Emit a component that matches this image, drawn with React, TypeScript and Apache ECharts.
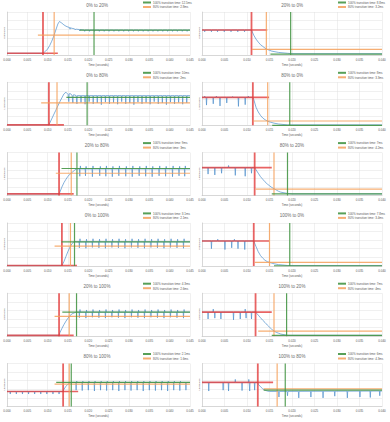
import React, { useEffect, useRef } from "react";
import * as echarts from "echarts";

const titles = [
  "0% to 20%", "20% to 0%", "0% to 80%", "80% to 0%", "20% to 80%", "80% to 20%",
  "0% to 100%", "100% to 0%", "20% to 100%", "100% to 20%", "80% to 100%", "100% to 80%",
];
const legend100 = [
  "100% transition time: 12.5ms", "100% transition time: 8.8ms", "100% transition time: 10ms",
  "100% transition time: 8ms", "100% transition time: 9ms", "100% transition time: 7ms",
  "100% transition time: 3.1ms", "100% transition time: 7.8ms", "100% transition time: 4.3ms",
  "100% transition time: 7ms", "100% transition time: 2.1ms", "100% transition time: 6ms",
];
const legend80 = [
  "80% transition time: 2.8ms", "80% transition time: 3.2ms", "80% transition time: 2ms",
  "80% transition time: 3.3ms", "80% transition time: 3ms", "80% transition time: 4.2ms",
  "80% transition time: 2.1ms", "80% transition time: 3.4ms", "80% transition time: 2.6ms",
  "80% transition time: 4ms", "80% transition time: 1.6ms", "80% transition time: 4.3ms",
];
const xMax = [45, 40, 45, 40, 45, 40, 45, 40, 45, 40, 45, 40];

const redX = [8.85, 11.0, 10.3, 11.3, 12.8, 11.7, 13.5, 11.5, 12.8, 11.9, 13.8, 12.4];
const redEnd = [12.5, 14.5, 14.0, 14.9, 16.4, 15.5, 17.2, 14.9, 16.4, 15.5, 17.5, 15.8];
const startLevel = [0.04, 0.58, 0.01, 0.65, 0.04, 0.65, 0.01, 0.58, 0.02, 0.56, 0.35, 0.56];
const x80 = [11.6, 14.3, 12.3, 14.6, 15.8, 16.0, 15.6, 15.0, 15.3, 16.0, 15.3, 16.7];
const level80 = [0.46, 0.13, 0.52, 0.1, 0.52, 0.15, 0.46, 0.08, 0.46, 0.12, 0.52, 0.41];
const start80 = [7.6, 11.1, 8.4, 11.3, 12.0, 11.9, 11.7, 11.7, 11.7, 12.5, 11.7, 13.7];
const x100 = [21.4, 19.7, 19.7, 19.5, 17.2, 19.0, 16.6, 19.5, 17.1, 18.8, 15.8, 18.5];
const level100 = [0.58, 0.02, 0.65, 0.0, 0.63, 0.04, 0.56, 0.0, 0.56, 0.02, 0.56, 0.38];
const start100 = [17.9, 15.2, 14.6, 15.6, 13.4, 15.5, 13.4, 16.0, 13.6, 15.5, 12.1, 13.7];

// [time ms, luminance] — main shape of each transition
const curve0to20 = [[0, 0.04], [8.85, 0.04], [9.5, 0.09], [10, 0.14], [10.5, 0.22], [11, 0.32], [11.5, 0.44], [12, 0.58], [12.5, 0.72], [12.9, 0.78], [13.5, 0.74], [14, 0.7], [14.5, 0.67], [15, 0.65], [16, 0.62], [17, 0.6], [18, 0.59], [19, 0.58], [45, 0.58]];
const curve20to0 = [[0, 0.58], [11, 0.58], [11.5, 0.46], [12, 0.37], [12.5, 0.3], [13, 0.24], [13.5, 0.2], [14, 0.16], [14.5, 0.13], [15, 0.11], [15.5, 0.09], [16, 0.08], [17, 0.06], [18, 0.05], [19, 0.04], [20, 0.03], [40, 0.03]];
const curve0to80 = [[0, 0.01], [10.3, 0.01], [11, 0.15], [12, 0.35], [13, 0.55], [13.5, 0.64], [14, 0.73], [14.5, 0.77], [15, 0.72], [15.5, 0.74], [16, 0.7], [16.5, 0.71], [17, 0.69], [45, 0.69]];
const curve80to0 = [[0, 0.65], [11.3, 0.65], [11.5, 0.6], [12, 0.42], [12.5, 0.31], [13, 0.23], [13.5, 0.17], [14, 0.13], [14.5, 0.1], [15, 0.08], [16, 0.05], [17, 0.03], [18, 0.02], [19, 0.01], [40, 0.01]];
const curve20to80 = [[0, 0.04], [12.8, 0.04], [13, 0.08], [13.5, 0.2], [14, 0.3], [14.5, 0.38], [15, 0.45], [15.5, 0.5], [16, 0.54], [16.5, 0.58], [17, 0.62], [45, 0.62]];
const curve80to20 = [[0, 0.65], [11.7, 0.65], [12, 0.6], [12.5, 0.52], [13, 0.44], [13.5, 0.38], [14, 0.32], [14.5, 0.27], [15, 0.23], [15.5, 0.19], [16, 0.16], [16.5, 0.13], [17, 0.1], [17.5, 0.08], [18, 0.07], [19, 0.05], [20, 0.04], [40, 0.04]];
const curve0to100 = [[0, 0.01], [13.5, 0.01], [14, 0.1], [14.5, 0.22], [15, 0.34], [15.5, 0.44], [16, 0.52], [16.6, 0.57], [17, 0.56], [45, 0.56]];
const curve100to0 = [[0, 0.58], [11.5, 0.58], [12, 0.45], [12.5, 0.33], [13, 0.24], [13.5, 0.18], [14, 0.13], [14.5, 0.1], [15, 0.08], [16, 0.05], [17, 0.03], [18, 0.02], [19, 0.01], [40, 0.01]];
const curve20to100 = [[0, 0.02], [12.8, 0.02], [13, 0.08], [13.5, 0.18], [14, 0.27], [14.5, 0.35], [15, 0.42], [15.5, 0.48], [16, 0.52], [16.5, 0.54], [17, 0.56], [45, 0.56]];
const curve100to20 = [[0, 0.56], [11.9, 0.56], [12, 0.55], [12.5, 0.49], [13, 0.43], [13.5, 0.37], [14, 0.32], [14.5, 0.26], [15, 0.21], [15.5, 0.16], [16, 0.12], [16.5, 0.09], [17, 0.07], [17.5, 0.05], [18, 0.04], [18.5, 0.03], [19, 0.02], [40, 0.02]];
const curve80to100 = [[0, 0.35], [13.8, 0.35], [14, 0.4], [14.5, 0.47], [15, 0.52], [15.5, 0.55], [16, 0.56], [45, 0.56]];
const curve100to80 = [[0, 0.56], [12.4, 0.56], [12.5, 0.52], [13, 0.46], [13.5, 0.41], [14, 0.38], [14.5, 0.36], [15, 0.35], [40, 0.36]];

// [time ms, luminance] — short flicker spikes on top of the main shape
const spikes0to20 = [[15.5, 0.6], [16.7, 0.59], [17.9, 0.56], [19.1, 0.55], [20.3, 0.55], [21.5, 0.55], [22.7, 0.55], [23.9, 0.55], [25.1, 0.55], [26.3, 0.55], [27.5, 0.55], [28.7, 0.55], [29.9, 0.55], [31.1, 0.55], [32.3, 0.55], [33.5, 0.55], [34.7, 0.55], [35.9, 0.55], [37.1, 0.55], [38.3, 0.55], [39.5, 0.55], [40.7, 0.55], [41.9, 0.55], [43.1, 0.55], [44.3, 0.55]];
const spikes20to0 = [[0.6, 0.54], [2.1, 0.54], [3.45, 0.54], [4.95, 0.54], [6.45, 0.54], [7.95, 0.54], [9.45, 0.54]];
const spikes0to80 = [[15.2, 0.55], [16.2, 0.52], [17.2, 0.5], [18.2, 0.53], [19.2, 0.49], [20.2, 0.55], [21.2, 0.5], [22.2, 0.52], [23.2, 0.48], [24.2, 0.54], [25.2, 0.5], [26.2, 0.53], [27.2, 0.49], [28.2, 0.55], [29.2, 0.5], [30.2, 0.52], [31.2, 0.48], [32.2, 0.54], [33.2, 0.5], [34.2, 0.53], [35.2, 0.49], [36.2, 0.55], [37.2, 0.5], [38.2, 0.52], [39.2, 0.48], [40.2, 0.54], [41.2, 0.5], [42.2, 0.53], [43.2, 0.49], [44.2, 0.52]];
const spikes80to0 = [[0.6, 0.68], [1.0, 0.47], [2.5, 0.5], [3.2, 0.68], [4.0, 0.45], [5.5, 0.52], [6.8, 0.67], [8.1, 0.44], [9.6, 0.48], [10.3, 0.68]];
const spikes20to80 = [[17.9, 0.45], [18.05, 0.69], [19.3, 0.46], [19.45, 0.68], [21.0, 0.44], [21.15, 0.69], [22.8, 0.46], [22.95, 0.68], [24.3, 0.45], [24.45, 0.69], [25.9, 0.44], [26.05, 0.68], [27.5, 0.46], [27.65, 0.69], [29.2, 0.45], [29.35, 0.68], [30.8, 0.44], [30.95, 0.69], [32.5, 0.46], [32.65, 0.68], [34.1, 0.45], [34.25, 0.69], [35.7, 0.44], [35.85, 0.68], [37.4, 0.46], [37.55, 0.69], [39.0, 0.45], [39.15, 0.68], [40.7, 0.44], [40.85, 0.69], [42.3, 0.46], [42.45, 0.68], [43.7, 0.45], [43.85, 0.69]];
const spikes80to20 = [[1.35, 0.5], [2.85, 0.48], [4.35, 0.52], [5.9, 0.7], [7.4, 0.47], [9.6, 0.45], [11.0, 0.52]];
const spikes0to100 = [[17.8, 0.42], [17.95, 0.63], [19.4, 0.41], [19.55, 0.62], [21.0, 0.43], [21.15, 0.63], [22.6, 0.42], [22.75, 0.62], [24.2, 0.41], [24.35, 0.63], [25.8, 0.43], [25.95, 0.62], [27.4, 0.42], [27.55, 0.63], [29.0, 0.41], [29.15, 0.62], [30.6, 0.43], [30.75, 0.63], [32.2, 0.42], [32.35, 0.62], [33.8, 0.41], [33.95, 0.63], [35.4, 0.43], [35.55, 0.62], [37.0, 0.42], [37.15, 0.63], [38.6, 0.41], [38.75, 0.62], [40.2, 0.43], [40.35, 0.63], [41.8, 0.42], [41.95, 0.62], [43.4, 0.41], [43.55, 0.63]];
const spikes100to0 = [[2.1, 0.4], [3.5, 0.62], [5.1, 0.38], [6.6, 0.42], [7.2, 0.62], [8.0, 0.4], [9.5, 0.38]];
const spikes20to100 = [[17.8, 0.43], [17.95, 0.62], [19.4, 0.42], [19.55, 0.61], [21.0, 0.44], [21.15, 0.62], [22.6, 0.43], [22.75, 0.61], [24.2, 0.42], [24.35, 0.62], [25.8, 0.44], [25.95, 0.61], [27.4, 0.43], [27.55, 0.62], [29.0, 0.42], [29.15, 0.61], [30.6, 0.44], [30.75, 0.62], [32.2, 0.43], [32.35, 0.61], [33.8, 0.42], [33.95, 0.62], [35.4, 0.44], [35.55, 0.61], [37.0, 0.43], [37.15, 0.62], [38.6, 0.42], [38.75, 0.61], [40.2, 0.44], [40.35, 0.62], [41.8, 0.43], [41.95, 0.61], [43.4, 0.42], [43.55, 0.62]];
const spikes100to20 = [[1.35, 0.4], [2.5, 0.63], [2.85, 0.42], [4.2, 0.4], [7.0, 0.38], [8.5, 0.4], [9.6, 0.63], [9.8, 0.42], [11.0, 0.4]];
const spikes80to100 = [[0.8, 0.29], [2.3, 0.29], [3.8, 0.29], [5.3, 0.29], [6.8, 0.29], [8.3, 0.29], [9.8, 0.29], [11.3, 0.29], [12.8, 0.29], [17.0, 0.38], [17.15, 0.59], [18.5, 0.37], [18.65, 0.59], [20.0, 0.38], [20.15, 0.59], [21.5, 0.36], [21.65, 0.59], [23.0, 0.38], [23.15, 0.59], [24.5, 0.37], [24.65, 0.59], [26.0, 0.38], [26.15, 0.59], [27.5, 0.36], [27.65, 0.59], [29.0, 0.38], [29.15, 0.59], [30.5, 0.37], [30.65, 0.59], [32.0, 0.38], [32.15, 0.59], [33.5, 0.36], [33.65, 0.59], [35.0, 0.38], [35.15, 0.59], [36.5, 0.37], [36.65, 0.59], [38.0, 0.38], [38.15, 0.59], [39.5, 0.36], [39.65, 0.59], [41.0, 0.38], [41.15, 0.59], [42.5, 0.37], [42.65, 0.59], [44.0, 0.38]];
const spikes100to80 = [[1.5, 0.36], [4.7, 0.38], [5.9, 0.36], [7.4, 0.63], [8.9, 0.37], [10.4, 0.63], [10.6, 0.36], [11.7, 0.38], [17.1, 0.22], [19.0, 0.25], [21.5, 0.2], [24.2, 0.22], [26.9, 0.2], [29.5, 0.24], [32.3, 0.2], [35.1, 0.22], [37.4, 0.21], [39.5, 0.25]];

const curves = [
  curve0to20, curve20to0, curve0to80, curve80to0, curve20to80, curve80to20,
  curve0to100, curve100to0, curve20to100, curve100to20, curve80to100, curve100to80,
];
const spikes = [
  spikes0to20, spikes20to0, spikes0to80, spikes80to0, spikes20to80, spikes80to20,
  spikes0to100, spikes100to0, spikes20to100, spikes100to20, spikes80to100, spikes100to80,
];

const RED = "rgba(226,60,60,0.8)";
const ORANGE = "rgba(245,160,90,0.85)";
const GREEN = "rgba(70,150,70,0.9)";
const TXT = "#595959";
const FONT = "Liberation Sans";

function interp(pts: number[][], t: number) {
  for (let k = 1; k < pts.length; k++) {
    if (t <= pts[k][0]) {
      const [t0, v0] = pts[k - 1];
      const [t1, v1] = pts[k];
      return v0 + ((v1 - v0) * (t - t0)) / (t1 - t0 || 1);
    }
  }
  return pts[pts.length - 1][1];
}

function buildCurve(main: number[][], sp: number[][]) {
  const pts: number[][] = main.map((p) => [p[0], p[1]]);
  sp.forEach(([t, v]) => {
    pts.push([t - 0.08, interp(main, t - 0.08)]);
    pts.push([t, v]);
    pts.push([t + 0.08, interp(main, t + 0.08)]);
  });
  pts.sort((a, b) => a[0] - b[0]);
  return pts;
}

export default function App() {
  const ref = useRef<HTMLDivElement>(null);
  useEffect(() => {
    const chart = echarts.init(ref.current!, null, { renderer: "svg" });
    const grid: any[] = [];
    const xAxis: any[] = [];
    const yAxis: any[] = [];
    const series: any[] = [];
    const legend: any[] = [];
    const graphic: any[] = [];
    titles.forEach((title, i) => {
      const col = i % 2;
      const row = Math.floor(i / 2);
      const px = col * 195;
      const py = row * 70.3;
      const gl = px + 7;
      const gw = col === 0 ? 183 : 180;
      grid.push({ left: gl, top: py + 12, width: gw, height: 43 });
      xAxis.push({
        gridIndex: i, type: "value", min: 0, max: xMax[i], interval: 5,
        axisLabel: { formatter: (v: number) => (v / 1000).toFixed(3), fontSize: 3, color: TXT, margin: 3, fontFamily: FONT },
        axisTick: { show: false },
        axisLine: { lineStyle: { color: "#bfbfbf", width: 0.5 } },
        splitLine: { show: true, lineStyle: { color: "#e0e0e0", width: 0.5 } },
        name: "Time (seconds)", nameLocation: "middle", nameGap: 8,
        nameTextStyle: { fontSize: 3, color: TXT, fontFamily: FONT },
      });
      yAxis.push({
        gridIndex: i, type: "value", min: 0, max: 1, interval: 0.2,
        axisLabel: { show: false }, axisTick: { show: false },
        axisLine: { show: true, lineStyle: { color: "#bfbfbf", width: 0.5 } },
        splitLine: { show: true, lineStyle: { color: "#e0e0e0", width: 0.5 } },
      });
      const base = { type: "line", xAxisIndex: i, yAxisIndex: i, symbol: "none", silent: true, animation: false };
      series.push({
        ...base, name: "curve" + i,
        data: buildCurve(curves[i], spikes[i]),
        lineStyle: { color: "#4f8fcc", width: 0.7 }, itemStyle: { color: "#4f8fcc" },
      });
      series.push({ ...base, name: "start" + i, data: [[redX[i], 0], [redX[i], 1]], lineStyle: { color: RED, width: 1.8 }, itemStyle: { color: RED } });
      series.push({ ...base, name: "start" + i, data: [[0, startLevel[i]], [redEnd[i], startLevel[i]]], lineStyle: { color: RED, width: 1.6 }, itemStyle: { color: RED } });
      series.push({ ...base, name: legend80[i], data: [[x80[i], 0], [x80[i], 1]], lineStyle: { color: ORANGE, width: 1.2 }, itemStyle: { color: ORANGE } });
      series.push({ ...base, name: legend80[i], data: [[start80[i], level80[i]], [xMax[i], level80[i]]], lineStyle: { color: ORANGE, width: 1.2 }, itemStyle: { color: ORANGE } });
      series.push({ ...base, name: legend100[i], data: [[x100[i], 0], [x100[i], 1]], lineStyle: { color: GREEN, width: 1.2 }, itemStyle: { color: GREEN } });
      series.push({ ...base, name: legend100[i], data: [[start100[i], level100[i]], [xMax[i], level100[i]]], lineStyle: { color: GREEN, width: 1.2 }, itemStyle: { color: GREEN } });
      legend.push({
        data: [legend100[i], legend80[i]], left: px + 143, top: py + 1, orient: "vertical",
        itemGap: 1.5, itemWidth: 8, itemHeight: 2, icon: "rect", selectedMode: false,
        padding: 0, textStyle: { fontSize: 3, color: TXT, fontFamily: FONT, padding: [0, 0, 0, -3] },
      });
      graphic.push({
        type: "text", x: px + 97, y: py + 2.5,
        style: { text: title, fontSize: 4.5, fill: "#6b6b6b", align: "center", verticalAlign: "top", fontFamily: FONT },
      });
      graphic.push({
        type: "text", x: px + 4.5, y: py + 33, rotation: Math.PI / 2,
        style: { text: "Luminance", fontSize: 2.5, fill: TXT, align: "center", verticalAlign: "middle", fontFamily: FONT },
      });
    });
    chart.setOption({
      animation: false,
      backgroundColor: "#ffffff",
      grid, xAxis, yAxis, series, legend, graphic,
    });
    return () => chart.dispose();
  }, []);
  return (
    <div
      ref={ref}
      style={{ position: "fixed", left: 0, top: 0, width: 390, height: 422, background: "#fff" }}
    />
  );
}
